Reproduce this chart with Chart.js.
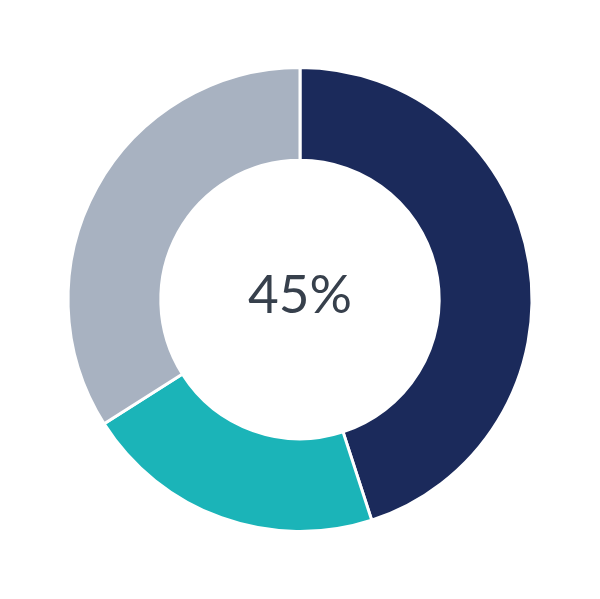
<!DOCTYPE html>
<html>
<head>
<meta charset="utf-8">
<script src="https://cdn.jsdelivr.net/npm/chart.js@4/dist/chart.umd.min.js"></script>
<style>
  html, body { margin: 0; padding: 0; background: #ffffff; }
  #wrap { width: 600px; height: 599px; position: relative; }
</style>
</head>
<body>
<div id="wrap"><canvas id="myChart"></canvas></div>
<script>
const labels = ['A', 'B', 'C'];
const values = [45, 21, 34];
const colors = ['#1b2a5b', '#1bb4b8', '#a8b2c1'];
const centerLabel = '45%';

// text in the middle of the ring
const centerText = {
  id: 'centerText',
  afterDraw(chart) {
    const { ctx } = chart;
    const meta = chart.getDatasetMeta(0);
    const arc = meta.data[0];
    ctx.save();
    ctx.font = '53px Lato';
    ctx.fillStyle = '#37404c';
    ctx.textAlign = 'center';
    ctx.textBaseline = 'middle';
    ctx.fillText(centerLabel, arc.x, arc.y - 4);
    ctx.restore();
  }
};

new Chart(document.getElementById('myChart'), {
  type: 'doughnut',
  data: {
    labels: labels,
    datasets: [{
      data: values,
      backgroundColor: colors,
      borderColor: '#ffffff',
      borderWidth: 3
    }]
  },
  options: {
    responsive: true,
    maintainAspectRatio: false,
    animation: false,
    cutout: '60%',
    layout: { padding: 66 },
    plugins: {
      legend: { display: false },
      tooltip: { enabled: false }
    }
  },
  plugins: [centerText]
});
</script>
</body>
</html>
